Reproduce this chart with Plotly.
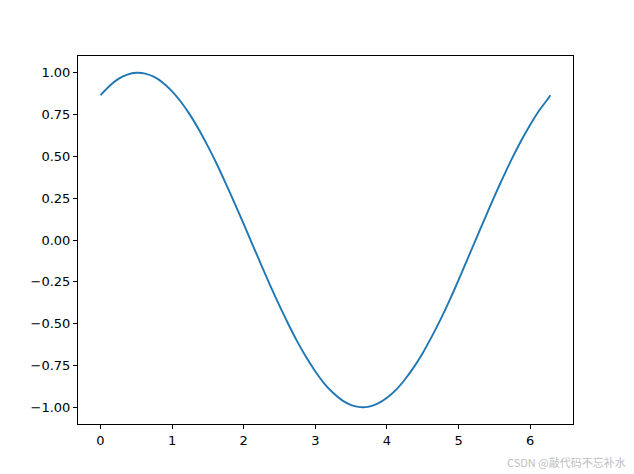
import plotly.graph_objects as go

# values, every 0.125 along x
x_vals = [0.0, 0.125, 0.25, 0.375, 0.5, 0.625, 0.75, 0.875, 1.0, 1.125, 1.25, 1.375,
          1.5, 1.625, 1.75, 1.875, 2.0, 2.125, 2.25, 2.375, 2.5, 2.625, 2.75, 2.875,
          3.0, 3.125, 3.25, 3.375, 3.5, 3.625, 3.75, 3.875, 4.0, 4.125, 4.25, 4.375,
          4.5, 4.625, 4.75, 4.875, 5.0, 5.125, 5.25, 5.375, 5.5, 5.625, 5.75, 5.875,
          6.0, 6.125, 6.25, 6.28]
y_vals = [0.866, 0.921, 0.963, 0.989, 1.000, 0.995, 0.975, 0.939, 0.889, 0.825, 0.748, 0.659,
          0.560, 0.453, 0.337, 0.218, 0.095, -0.030, -0.155, -0.277, -0.394, -0.505, -0.609, -0.703,
          -0.786, -0.858, -0.915, -0.959, -0.987, -0.999, -0.996, -0.977, -0.943, -0.896, -0.834, -0.760,
          -0.675, -0.578, -0.473, -0.360, -0.238, -0.113, 0.013, 0.137, 0.261, 0.379, 0.491, 0.595,
          0.689, 0.774, 0.846, 0.866]

x_ticks = [0, 1, 2, 3, 4, 5, 6]
y_ticks = [-1.00, -0.75, -0.50, -0.25, 0.00, 0.25, 0.50, 0.75, 1.00]

fig = go.Figure()
fig.add_trace(go.Scatter(x=x_vals, y=y_vals, mode="lines",
                         line=dict(color="#1f77b4", width=1.9, shape="spline", smoothing=0.6)))

axis_style = dict(showgrid=False, zeroline=False, showline=True, linecolor="black",
                  linewidth=1, mirror=True, ticks="outside", ticklen=4, tickwidth=1,
                  tickcolor="black", tickfont=dict(family="DejaVu Sans", size=13, color="black"))

fig.update_xaxes(range=[-0.314, 6.597], tickvals=x_ticks,
                 ticktext=[str(t) for t in x_ticks], **axis_style)
fig.update_yaxes(range=[-1.1, 1.1], tickvals=y_ticks,
                 ticktext=["%.2f" % t if t >= 0 else "\u2212%.2f" % -t for t in y_ticks],
                 **axis_style)

fig.add_annotation(text="CSDN @敲代码不忘补水", xref="paper", yref="paper",
                   x=1.111, y=-0.103, xanchor="right", yanchor="middle", showarrow=False,
                   font=dict(family="Noto Sans CJK SC", size=11, color="#c0c0c0"))

fig.update_layout(width=634, height=474, showlegend=False,
                  margin=dict(l=78, r=61, t=56, b=50),
                  plot_bgcolor="white", paper_bgcolor="white")

# drop the default page margin so the figure sits at the top-left corner
fig.write_html("out.html", config={"displayModeBar": False},
               post_script="document.body.style.margin='0';")
